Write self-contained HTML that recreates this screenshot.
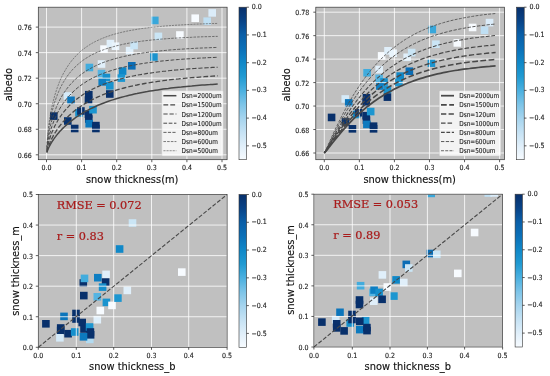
<!DOCTYPE html>
<html><head><meta charset="utf-8"><title>snow albedo figure</title>
<style>
html,body{margin:0;padding:0;background:#fff}
svg{display:block}
.t{font-family:"DejaVu Sans","Liberation Sans",sans-serif;fill:#1a1a1a;stroke:#1a1a1a;stroke-width:0.12px}
.l{font-family:"DejaVu Sans","Liberation Sans",sans-serif;fill:#111;stroke:#111;stroke-width:0.15px}
.s{font-family:"DejaVu Serif","Liberation Serif",serif;fill:#a81c1c;stroke:#a81c1c;stroke-width:0.25px}
</style></head><body>
<svg width="550" height="376" viewBox="0 0 550 376">
<defs><linearGradient id="cbg" x1="0" y1="0" x2="0" y2="1">
<stop offset="0.00%" stop-color="#08306b"/>
<stop offset="9.09%" stop-color="#084387"/>
<stop offset="18.18%" stop-color="#0a5fa8"/>
<stop offset="27.27%" stop-color="#0b70b8"/>
<stop offset="36.36%" stop-color="#1088c8"/>
<stop offset="45.45%" stop-color="#209ad2"/>
<stop offset="54.55%" stop-color="#4ab0e0"/>
<stop offset="63.64%" stop-color="#7cc4e8"/>
<stop offset="72.73%" stop-color="#a5d4ee"/>
<stop offset="81.82%" stop-color="#c5e2f4"/>
<stop offset="90.91%" stop-color="#e0effa"/>
<stop offset="100.00%" stop-color="#f7fbff"/>
</linearGradient></defs>
<rect width="550" height="376" fill="#fff"/>
<rect x="38.3" y="7.2" width="188.8" height="152.5" fill="#c0c0c0"/>
<clipPath id="c45"><rect x="38.3" y="7.2" width="188.8" height="152.5"/></clipPath>
<g clip-path="url(#c45)">
<rect x="50.00" y="112.30" width="7.6" height="7.6" fill="#08306b"/>
<rect x="64.00" y="117.20" width="7.6" height="7.6" fill="#083471"/>
<rect x="70.90" y="124.70" width="7.6" height="7.6" fill="#08306b"/>
<rect x="75.20" y="109.10" width="7.6" height="7.6" fill="#168fcc"/>
<rect x="77.10" y="107.20" width="7.6" height="7.6" fill="#08306b"/>
<rect x="85.00" y="90.90" width="7.6" height="7.6" fill="#08306b"/>
<rect x="84.70" y="96.30" width="7.6" height="7.6" fill="#08306b"/>
<rect x="84.70" y="110.40" width="7.6" height="7.6" fill="#08306b"/>
<rect x="85.00" y="115.20" width="7.6" height="7.6" fill="#08306b"/>
<rect x="89.20" y="105.90" width="7.6" height="7.6" fill="#1d96d0"/>
<rect x="85.40" y="119.90" width="7.6" height="7.6" fill="#0d7abe"/>
<rect x="92.10" y="121.80" width="7.6" height="7.6" fill="#08306b"/>
<rect x="92.10" y="124.70" width="7.6" height="7.6" fill="#08306b"/>
<rect x="63.70" y="92.20" width="7.6" height="7.6" fill="#d5eaf8"/>
<rect x="67.20" y="96.50" width="7.6" height="7.6" fill="#0c75bb"/>
<rect x="85.60" y="63.70" width="7.6" height="7.6" fill="#42acdd"/>
<rect x="97.70" y="60.20" width="7.6" height="7.6" fill="#e0effa"/>
<rect x="97.70" y="69.80" width="7.6" height="7.6" fill="#54b4e2"/>
<rect x="102.60" y="73.70" width="7.6" height="7.6" fill="#168fcc"/>
<rect x="98.40" y="78.10" width="7.6" height="7.6" fill="#0e7ec2"/>
<rect x="106.00" y="82.00" width="7.6" height="7.6" fill="#1a93ce"/>
<rect x="106.00" y="90.20" width="7.6" height="7.6" fill="#08306b"/>
<rect x="118.80" y="67.30" width="7.6" height="7.6" fill="#1088c8"/>
<rect x="117.50" y="74.30" width="7.6" height="7.6" fill="#1d96d0"/>
<rect x="128.00" y="62.00" width="7.6" height="7.6" fill="#0b6db5"/>
<rect x="100.20" y="45.30" width="7.6" height="7.6" fill="#f7fbff"/>
<rect x="106.60" y="39.80" width="7.6" height="7.6" fill="#e0effa"/>
<rect x="111.70" y="42.40" width="7.6" height="7.6" fill="#e9f4fc"/>
<rect x="125.80" y="46.80" width="7.6" height="7.6" fill="#e0effa"/>
<rect x="130.30" y="41.70" width="7.6" height="7.6" fill="#cae5f5"/>
<rect x="150.10" y="53.20" width="7.6" height="7.6" fill="#1a93ce"/>
<rect x="154.60" y="32.60" width="7.6" height="7.6" fill="#cae5f5"/>
<rect x="151.00" y="16.60" width="7.6" height="7.6" fill="#39a7da"/>
<rect x="176.10" y="31.20" width="7.6" height="7.6" fill="#f7fbff"/>
<rect x="191.40" y="14.40" width="7.6" height="7.6" fill="#f7fbff"/>
<rect x="203.40" y="17.40" width="7.6" height="7.6" fill="#bfdff3"/>
<rect x="208.40" y="9.10" width="7.6" height="7.6" fill="#dbecf9"/>
<line x1="46.5" y1="7.2" x2="46.5" y2="159.7" stroke="#fff" stroke-width="0.8"/>
<line x1="81.6" y1="7.2" x2="81.6" y2="159.7" stroke="#fff" stroke-width="0.8"/>
<line x1="116.7" y1="7.2" x2="116.7" y2="159.7" stroke="#fff" stroke-width="0.8"/>
<line x1="151.8" y1="7.2" x2="151.8" y2="159.7" stroke="#fff" stroke-width="0.8"/>
<line x1="186.9" y1="7.2" x2="186.9" y2="159.7" stroke="#fff" stroke-width="0.8"/>
<line x1="222.0" y1="7.2" x2="222.0" y2="159.7" stroke="#fff" stroke-width="0.8"/>
<line x1="38.3" y1="154.8" x2="227.1" y2="154.8" stroke="#fff" stroke-width="0.8"/>
<line x1="38.3" y1="129.26000000000002" x2="227.1" y2="129.26000000000002" stroke="#fff" stroke-width="0.8"/>
<line x1="38.3" y1="103.72000000000001" x2="227.1" y2="103.72000000000001" stroke="#fff" stroke-width="0.8"/>
<line x1="38.3" y1="78.18" x2="227.1" y2="78.18" stroke="#fff" stroke-width="0.8"/>
<line x1="38.3" y1="52.640000000000015" x2="227.1" y2="52.640000000000015" stroke="#fff" stroke-width="0.8"/>
<line x1="38.3" y1="27.100000000000023" x2="227.1" y2="27.100000000000023" stroke="#fff" stroke-width="0.8"/>
<path d="M46.8,152.4 L47.9,149.4 L48.5,148.1 L49.0,147.0 L49.6,145.9 L50.2,144.8 L50.7,143.9 L51.3,142.9 L51.8,142.0 L52.4,141.1 L53.0,140.3 L53.5,139.4 L54.1,138.6 L54.6,137.9 L55.2,137.1 L55.8,136.4 L56.3,135.6 L56.9,134.9 L57.4,134.2 L58.0,133.6 L58.6,132.9 L59.1,132.3 L59.7,131.6 L60.2,131.0 L60.8,130.4 L61.4,129.8 L61.9,129.2 L62.5,128.6 L63.0,128.1 L63.6,127.5 L64.2,127.0 L66.8,124.6 L69.4,122.3 L72.0,120.3 L74.6,118.3 L77.2,116.5 L79.8,114.8 L82.4,113.2 L85.0,111.7 L87.6,110.3 L90.2,108.9 L92.8,107.7 L95.4,106.5 L98.0,105.3 L100.6,104.2 L103.2,103.2 L105.8,102.2 L108.4,101.3 L111.0,100.4 L113.6,99.6 L116.2,98.8 L118.8,98.0 L121.4,97.3 L124.0,96.6 L126.6,95.9 L129.2,95.3 L131.8,94.7 L134.4,94.1 L137.0,93.6 L139.6,93.0 L142.2,92.5 L144.8,92.0 L147.4,91.6 L150.0,91.1 L152.6,90.7 L155.2,90.3 L157.8,89.9 L160.4,89.5 L163.0,89.1 L165.7,88.8 L168.3,88.5 L170.9,88.1 L173.5,87.8 L176.1,87.5 L178.7,87.2 L181.3,87.0 L183.9,86.7 L186.5,86.4 L189.1,86.2 L191.7,86.0 L194.3,85.7 L196.9,85.5 L199.5,85.3 L202.1,85.1 L204.7,84.9 L207.3,84.7 L209.9,84.6 L212.5,84.4 L215.1,84.2 L217.7,84.0" fill="none" stroke="#484848" stroke-width="1.5"/>
<path d="M46.8,152.4 L47.9,148.1 L48.5,146.5 L49.0,145.0 L49.6,143.5 L50.2,142.2 L50.7,140.9 L51.3,139.7 L51.8,138.6 L52.4,137.5 L53.0,136.4 L53.5,135.4 L54.1,134.4 L54.6,133.5 L55.2,132.5 L55.8,131.6 L56.3,130.8 L56.9,129.9 L57.4,129.1 L58.0,128.3 L58.6,127.5 L59.1,126.7 L59.7,126.0 L60.2,125.3 L60.8,124.6 L61.4,123.9 L61.9,123.2 L62.5,122.5 L63.0,121.9 L63.6,121.2 L64.2,120.6 L66.8,117.8 L69.4,115.3 L72.0,113.0 L74.6,110.8 L77.2,108.8 L79.8,107.0 L82.4,105.2 L85.0,103.6 L87.6,102.1 L90.2,100.7 L92.8,99.3 L95.4,98.1 L98.0,96.9 L100.6,95.8 L103.2,94.7 L105.8,93.7 L108.4,92.8 L111.0,91.9 L113.6,91.0 L116.2,90.2 L118.8,89.4 L121.4,88.7 L124.0,88.0 L126.6,87.3 L129.2,86.7 L131.8,86.1 L134.4,85.5 L137.0,85.0 L139.6,84.4 L142.2,84.0 L144.8,83.5 L147.4,83.0 L150.0,82.6 L152.6,82.2 L155.2,81.8 L157.8,81.4 L160.4,81.0 L163.0,80.7 L165.7,80.3 L168.3,80.0 L170.9,79.7 L173.5,79.4 L176.1,79.1 L178.7,78.9 L181.3,78.6 L183.9,78.4 L186.5,78.1 L189.1,77.9 L191.7,77.7 L194.3,77.5 L196.9,77.3 L199.5,77.1 L202.1,76.9 L204.7,76.7 L207.3,76.5 L209.9,76.4 L212.5,76.2 L215.1,76.0 L217.7,75.9" fill="none" stroke="#484848" stroke-width="1.3" stroke-dasharray="4.81 2.08"/>
<path d="M46.8,151.2 L47.9,145.1 L48.5,142.9 L49.0,140.8 L49.6,139.0 L50.2,137.2 L50.7,135.6 L51.3,134.1 L51.8,132.6 L52.4,131.3 L53.0,130.0 L53.5,128.7 L54.1,127.5 L54.6,126.3 L55.2,125.2 L55.8,124.2 L56.3,123.1 L56.9,122.1 L57.4,121.2 L58.0,120.2 L58.6,119.3 L59.1,118.4 L59.7,117.6 L60.2,116.7 L60.8,115.9 L61.4,115.1 L61.9,114.3 L62.5,113.6 L63.0,112.8 L63.6,112.1 L64.2,111.4 L66.8,108.4 L69.4,105.6 L72.0,103.1 L74.6,100.8 L77.2,98.7 L79.8,96.8 L82.4,95.0 L85.0,93.3 L87.6,91.8 L90.2,90.3 L92.8,89.0 L95.4,87.7 L98.0,86.6 L100.6,85.5 L103.2,84.4 L105.8,83.5 L108.4,82.5 L111.0,81.7 L113.6,80.9 L116.2,80.1 L118.8,79.4 L121.4,78.7 L124.0,78.0 L126.6,77.4 L129.2,76.8 L131.8,76.3 L134.4,75.7 L137.0,75.2 L139.6,74.7 L142.2,74.3 L144.8,73.9 L147.4,73.4 L150.0,73.1 L152.6,72.7 L155.2,72.3 L157.8,72.0 L160.4,71.7 L163.0,71.3 L165.7,71.1 L168.3,70.8 L170.9,70.5 L173.5,70.2 L176.1,70.0 L178.7,69.8 L181.3,69.5 L183.9,69.3 L186.5,69.1 L189.1,68.9 L191.7,68.7 L194.3,68.5 L196.9,68.3 L199.5,68.2 L202.1,68.0 L204.7,67.9 L207.3,67.7 L209.9,67.6 L212.5,67.4 L215.1,67.3 L217.7,67.2" fill="none" stroke="#484848" stroke-width="1.15" stroke-dasharray="4.25 1.84"/>
<path d="M46.8,150.0 L47.9,142.1 L48.5,139.2 L49.0,136.7 L49.6,134.4 L50.2,132.2 L50.7,130.2 L51.3,128.4 L51.8,126.6 L52.4,125.0 L53.0,123.4 L53.5,121.9 L54.1,120.5 L54.6,119.1 L55.2,117.8 L55.8,116.6 L56.3,115.4 L56.9,114.2 L57.4,113.1 L58.0,112.0 L58.6,110.9 L59.1,109.9 L59.7,108.9 L60.2,108.0 L60.8,107.0 L61.4,106.1 L61.9,105.3 L62.5,104.4 L63.0,103.6 L63.6,102.8 L64.2,102.0 L66.8,98.6 L69.4,95.6 L72.0,92.9 L74.6,90.4 L77.2,88.1 L79.8,86.1 L82.4,84.2 L85.0,82.5 L87.6,80.8 L90.2,79.4 L92.8,78.0 L95.4,76.7 L98.0,75.5 L100.6,74.4 L103.2,73.4 L105.8,72.4 L108.4,71.5 L111.0,70.7 L113.6,69.9 L116.2,69.1 L118.8,68.4 L121.4,67.8 L124.0,67.1 L126.6,66.5 L129.2,66.0 L131.8,65.5 L134.4,65.0 L137.0,64.5 L139.6,64.0 L142.2,63.6 L144.8,63.2 L147.4,62.8 L150.0,62.5 L152.6,62.1 L155.2,61.8 L157.8,61.5 L160.4,61.2 L163.0,60.9 L165.7,60.7 L168.3,60.4 L170.9,60.2 L173.5,59.9 L176.1,59.7 L178.7,59.5 L181.3,59.3 L183.9,59.1 L186.5,58.9 L189.1,58.8 L191.7,58.6 L194.3,58.4 L196.9,58.3 L199.5,58.1 L202.1,58.0 L204.7,57.9 L207.3,57.7 L209.9,57.6 L212.5,57.5 L215.1,57.4 L217.7,57.3" fill="none" stroke="#484848" stroke-width="1.0" stroke-dasharray="3.70 1.60"/>
<path d="M46.8,148.7 L47.9,138.8 L48.5,135.3 L49.0,132.2 L49.6,129.4 L50.2,126.9 L50.7,124.5 L51.3,122.4 L51.8,120.3 L52.4,118.4 L53.0,116.6 L53.5,114.9 L54.1,113.2 L54.6,111.6 L55.2,110.2 L55.8,108.7 L56.3,107.3 L56.9,106.0 L57.4,104.8 L58.0,103.5 L58.6,102.4 L59.1,101.2 L59.7,100.1 L60.2,99.1 L60.8,98.0 L61.4,97.0 L61.9,96.1 L62.5,95.1 L63.0,94.2 L63.6,93.3 L64.2,92.5 L66.8,88.8 L69.4,85.5 L72.0,82.6 L74.6,80.0 L77.2,77.6 L79.8,75.5 L82.4,73.5 L85.0,71.7 L87.6,70.1 L90.2,68.6 L92.8,67.2 L95.4,65.9 L98.0,64.7 L100.6,63.6 L103.2,62.5 L105.8,61.6 L108.4,60.7 L111.0,59.9 L113.6,59.1 L116.2,58.4 L118.8,57.7 L121.4,57.0 L124.0,56.4 L126.6,55.9 L129.2,55.3 L131.8,54.8 L134.4,54.4 L137.0,53.9 L139.6,53.5 L142.2,53.1 L144.8,52.7 L147.4,52.4 L150.0,52.0 L152.6,51.7 L155.2,51.4 L157.8,51.1 L160.4,50.9 L163.0,50.6 L165.7,50.4 L168.3,50.1 L170.9,49.9 L173.5,49.7 L176.1,49.5 L178.7,49.3 L181.3,49.2 L183.9,49.0 L186.5,48.8 L189.1,48.7 L191.7,48.5 L194.3,48.4 L196.9,48.2 L199.5,48.1 L202.1,48.0 L204.7,47.9 L207.3,47.8 L209.9,47.7 L212.5,47.6 L215.1,47.5 L217.7,47.4" fill="none" stroke="#484848" stroke-width="0.85" stroke-dasharray="3.15 1.36"/>
<path d="M46.8,147.1 L47.9,134.8 L48.5,130.4 L49.0,126.7 L49.6,123.3 L50.2,120.3 L50.7,117.5 L51.3,114.9 L51.8,112.5 L52.4,110.2 L53.0,108.1 L53.5,106.1 L54.1,104.2 L54.6,102.4 L55.2,100.7 L55.8,99.0 L56.3,97.5 L56.9,96.0 L57.4,94.5 L58.0,93.2 L58.6,91.8 L59.1,90.6 L59.7,89.3 L60.2,88.1 L60.8,87.0 L61.4,85.9 L61.9,84.8 L62.5,83.8 L63.0,82.8 L63.6,81.8 L64.2,80.9 L66.8,76.8 L69.4,73.3 L72.0,70.2 L74.6,67.5 L77.2,65.0 L79.8,62.8 L82.4,60.7 L85.0,58.9 L87.6,57.3 L90.2,55.7 L92.8,54.4 L95.4,53.1 L98.0,51.9 L100.6,50.9 L103.2,49.9 L105.8,48.9 L108.4,48.1 L111.0,47.3 L113.6,46.6 L116.2,45.9 L118.8,45.3 L121.4,44.7 L124.0,44.1 L126.6,43.6 L129.2,43.1 L131.8,42.7 L134.4,42.2 L137.0,41.9 L139.6,41.5 L142.2,41.1 L144.8,40.8 L147.4,40.5 L150.0,40.2 L152.6,39.9 L155.2,39.7 L157.8,39.4 L160.4,39.2 L163.0,39.0 L165.7,38.8 L168.3,38.6 L170.9,38.4 L173.5,38.2 L176.1,38.1 L178.7,37.9 L181.3,37.8 L183.9,37.6 L186.5,37.5 L189.1,37.4 L191.7,37.3 L194.3,37.1 L196.9,37.0 L199.5,36.9 L202.1,36.8 L204.7,36.7 L207.3,36.7 L209.9,36.6 L212.5,36.5 L215.1,36.4 L217.7,36.4" fill="none" stroke="#484848" stroke-width="0.7" stroke-dasharray="2.59 1.12"/>
<path d="M46.8,146.6 L47.9,132.4 L48.5,127.5 L49.0,123.3 L49.6,119.5 L50.2,116.1 L50.7,112.9 L51.3,110.0 L51.8,107.3 L52.4,104.8 L53.0,102.4 L53.5,100.1 L54.1,98.0 L54.6,96.0 L55.2,94.1 L55.8,92.2 L56.3,90.5 L56.9,88.8 L57.4,87.2 L58.0,85.7 L58.6,84.2 L59.1,82.8 L59.7,81.4 L60.2,80.1 L60.8,78.8 L61.4,77.6 L61.9,76.4 L62.5,75.3 L63.0,74.2 L63.6,73.1 L64.2,72.1 L66.8,67.6 L69.4,63.7 L72.0,60.3 L74.6,57.3 L77.2,54.5 L79.8,52.1 L82.4,49.9 L85.0,47.9 L87.6,46.1 L90.2,44.4 L92.8,42.9 L95.4,41.5 L98.0,40.3 L100.6,39.1 L103.2,38.0 L105.8,37.0 L108.4,36.1 L111.0,35.2 L113.6,34.4 L116.2,33.7 L118.8,33.0 L121.4,32.4 L124.0,31.8 L126.6,31.2 L129.2,30.7 L131.8,30.2 L134.4,29.8 L137.0,29.3 L139.6,28.9 L142.2,28.5 L144.8,28.2 L147.4,27.9 L150.0,27.5 L152.6,27.2 L155.2,27.0 L157.8,26.7 L160.4,26.5 L163.0,26.2 L165.7,26.0 L168.3,25.8 L170.9,25.6 L173.5,25.4 L176.1,25.2 L178.7,25.1 L181.3,24.9 L183.9,24.8 L186.5,24.6 L189.1,24.5 L191.7,24.4 L194.3,24.2 L196.9,24.1 L199.5,24.0 L202.1,23.9 L204.7,23.8 L207.3,23.7 L209.9,23.6 L212.5,23.5 L215.1,23.5 L217.7,23.4" fill="none" stroke="#484848" stroke-width="0.58" stroke-dasharray="2.15 0.93"/>
</g>
<rect x="161.8" y="90.7" width="61.39999999999998" height="65.2" rx="1" fill="#fff" fill-opacity="0.8" stroke="#ccc" stroke-opacity="0.8" stroke-width="0.5"/>
<line x1="163.4" y1="95.7" x2="176.4" y2="95.7" stroke="#484848" stroke-width="1.5"/>
<text transform="translate(181.60,98.18) scale(0.852,1)" font-size="6.8" class="t">Dsn=2000um</text>
<line x1="163.4" y1="104.87" x2="176.4" y2="104.87" stroke="#484848" stroke-width="1.3" stroke-dasharray="4.81 2.08"/>
<text transform="translate(181.60,107.35) scale(0.852,1)" font-size="6.8" class="t">Dsn=1500um</text>
<line x1="163.4" y1="114.04" x2="176.4" y2="114.04" stroke="#484848" stroke-width="1.15" stroke-dasharray="4.25 1.84"/>
<text transform="translate(181.60,116.52) scale(0.852,1)" font-size="6.8" class="t">Dsn=1200um</text>
<line x1="163.4" y1="123.21000000000001" x2="176.4" y2="123.21000000000001" stroke="#484848" stroke-width="1.0" stroke-dasharray="3.70 1.60"/>
<text transform="translate(181.60,125.69) scale(0.852,1)" font-size="6.8" class="t">Dsn=1000um</text>
<line x1="163.4" y1="132.38" x2="176.4" y2="132.38" stroke="#484848" stroke-width="0.85" stroke-dasharray="3.15 1.36"/>
<text transform="translate(181.60,134.86) scale(0.852,1)" font-size="6.8" class="t">Dsn=800um</text>
<line x1="163.4" y1="141.55" x2="176.4" y2="141.55" stroke="#484848" stroke-width="0.7" stroke-dasharray="2.59 1.12"/>
<text transform="translate(181.60,144.03) scale(0.852,1)" font-size="6.8" class="t">Dsn=600um</text>
<line x1="163.4" y1="150.72" x2="176.4" y2="150.72" stroke="#484848" stroke-width="0.58" stroke-dasharray="2.15 0.93"/>
<text transform="translate(181.60,153.20) scale(0.852,1)" font-size="6.8" class="t">Dsn=500um</text>
<rect x="38.3" y="7.2" width="188.8" height="152.5" fill="none" stroke="#333" stroke-width="0.7"/>
<line x1="46.5" y1="159.7" x2="46.5" y2="162.2" stroke="#333" stroke-width="0.8"/>
<text transform="translate(46.50,170.40) scale(0.89,1)" font-size="7.1" text-anchor="middle" class="t">0.0</text>
<line x1="81.6" y1="159.7" x2="81.6" y2="162.2" stroke="#333" stroke-width="0.8"/>
<text transform="translate(81.60,170.40) scale(0.89,1)" font-size="7.1" text-anchor="middle" class="t">0.1</text>
<line x1="116.7" y1="159.7" x2="116.7" y2="162.2" stroke="#333" stroke-width="0.8"/>
<text transform="translate(116.70,170.40) scale(0.89,1)" font-size="7.1" text-anchor="middle" class="t">0.2</text>
<line x1="151.8" y1="159.7" x2="151.8" y2="162.2" stroke="#333" stroke-width="0.8"/>
<text transform="translate(151.80,170.40) scale(0.89,1)" font-size="7.1" text-anchor="middle" class="t">0.3</text>
<line x1="186.9" y1="159.7" x2="186.9" y2="162.2" stroke="#333" stroke-width="0.8"/>
<text transform="translate(186.90,170.40) scale(0.89,1)" font-size="7.1" text-anchor="middle" class="t">0.4</text>
<line x1="222.0" y1="159.7" x2="222.0" y2="162.2" stroke="#333" stroke-width="0.8"/>
<text transform="translate(222.00,170.40) scale(0.89,1)" font-size="7.1" text-anchor="middle" class="t">0.5</text>
<line x1="35.8" y1="154.8" x2="38.3" y2="154.8" stroke="#333" stroke-width="0.8"/>
<text transform="translate(31.90,157.79) scale(0.89,1)" font-size="7.1" text-anchor="end" class="t">0.66</text>
<line x1="35.8" y1="129.26000000000002" x2="38.3" y2="129.26000000000002" stroke="#333" stroke-width="0.8"/>
<text transform="translate(31.90,132.25) scale(0.89,1)" font-size="7.1" text-anchor="end" class="t">0.68</text>
<line x1="35.8" y1="103.72000000000001" x2="38.3" y2="103.72000000000001" stroke="#333" stroke-width="0.8"/>
<text transform="translate(31.90,106.71) scale(0.89,1)" font-size="7.1" text-anchor="end" class="t">0.70</text>
<line x1="35.8" y1="78.18" x2="38.3" y2="78.18" stroke="#333" stroke-width="0.8"/>
<text transform="translate(31.90,81.17) scale(0.89,1)" font-size="7.1" text-anchor="end" class="t">0.72</text>
<line x1="35.8" y1="52.640000000000015" x2="38.3" y2="52.640000000000015" stroke="#333" stroke-width="0.8"/>
<text transform="translate(31.90,55.63) scale(0.89,1)" font-size="7.1" text-anchor="end" class="t">0.74</text>
<line x1="35.8" y1="27.100000000000023" x2="38.3" y2="27.100000000000023" stroke="#333" stroke-width="0.8"/>
<text transform="translate(31.90,30.09) scale(0.89,1)" font-size="7.1" text-anchor="end" class="t">0.76</text>
<text transform="translate(132.20,182.60) scale(0.958,1)" font-size="10.3" text-anchor="middle" class="l">snow thickness(m)</text>
<text transform="translate(12.00,84.65) rotate(-90) scale(0.958,1)" font-size="10.3" text-anchor="middle" class="l">albedo</text>
<rect x="239.0" y="7.2" width="7.599999999999994" height="152.5" fill="url(#cbg)" stroke="#333" stroke-width="0.6"/>
<line x1="246.6" y1="7.2" x2="248.9" y2="7.2" stroke="#333" stroke-width="0.8"/>
<text transform="translate(251.80,9.29) scale(0.89,1)" font-size="7.1" class="t">0.0</text>
<line x1="246.6" y1="34.92727272727273" x2="248.9" y2="34.92727272727273" stroke="#333" stroke-width="0.8"/>
<text transform="translate(251.50,37.02) scale(0.89,1)" font-size="7.1" class="t">−0.1</text>
<line x1="246.6" y1="62.654545454545456" x2="248.9" y2="62.654545454545456" stroke="#333" stroke-width="0.8"/>
<text transform="translate(251.50,64.75) scale(0.89,1)" font-size="7.1" class="t">−0.2</text>
<line x1="246.6" y1="90.38181818181819" x2="248.9" y2="90.38181818181819" stroke="#333" stroke-width="0.8"/>
<text transform="translate(251.50,92.47) scale(0.89,1)" font-size="7.1" class="t">−0.3</text>
<line x1="246.6" y1="118.10909090909091" x2="248.9" y2="118.10909090909091" stroke="#333" stroke-width="0.8"/>
<text transform="translate(251.50,120.20) scale(0.89,1)" font-size="7.1" class="t">−0.4</text>
<line x1="246.6" y1="145.83636363636361" x2="248.9" y2="145.83636363636361" stroke="#333" stroke-width="0.8"/>
<text transform="translate(251.50,147.93) scale(0.89,1)" font-size="7.1" class="t">−0.5</text>
<rect x="315.8" y="7.2" width="188.7" height="152.5" fill="#c0c0c0"/>
<clipPath id="c323"><rect x="315.8" y="7.2" width="188.7" height="152.5"/></clipPath>
<g clip-path="url(#c323)">
<rect x="327.78" y="113.64" width="7.6" height="7.6" fill="#08306b"/>
<rect x="341.74" y="118.14" width="7.6" height="7.6" fill="#083471"/>
<rect x="348.62" y="125.03" width="7.6" height="7.6" fill="#08306b"/>
<rect x="352.91" y="110.70" width="7.6" height="7.6" fill="#168fcc"/>
<rect x="354.80" y="108.95" width="7.6" height="7.6" fill="#08306b"/>
<rect x="362.68" y="93.97" width="7.6" height="7.6" fill="#08306b"/>
<rect x="362.38" y="98.93" width="7.6" height="7.6" fill="#08306b"/>
<rect x="362.38" y="111.89" width="7.6" height="7.6" fill="#08306b"/>
<rect x="362.68" y="116.30" width="7.6" height="7.6" fill="#08306b"/>
<rect x="366.87" y="107.76" width="7.6" height="7.6" fill="#1d96d0"/>
<rect x="363.08" y="120.62" width="7.6" height="7.6" fill="#0d7abe"/>
<rect x="369.76" y="122.37" width="7.6" height="7.6" fill="#08306b"/>
<rect x="369.76" y="125.03" width="7.6" height="7.6" fill="#08306b"/>
<rect x="341.44" y="95.17" width="7.6" height="7.6" fill="#d5eaf8"/>
<rect x="344.93" y="99.12" width="7.6" height="7.6" fill="#0c75bb"/>
<rect x="363.28" y="68.98" width="7.6" height="7.6" fill="#42acdd"/>
<rect x="375.34" y="65.76" width="7.6" height="7.6" fill="#e0effa"/>
<rect x="375.34" y="74.58" width="7.6" height="7.6" fill="#54b4e2"/>
<rect x="380.23" y="78.17" width="7.6" height="7.6" fill="#168fcc"/>
<rect x="376.04" y="82.21" width="7.6" height="7.6" fill="#0e7ec2"/>
<rect x="383.62" y="85.79" width="7.6" height="7.6" fill="#1a93ce"/>
<rect x="383.62" y="93.33" width="7.6" height="7.6" fill="#08306b"/>
<rect x="396.38" y="72.28" width="7.6" height="7.6" fill="#1088c8"/>
<rect x="395.09" y="78.72" width="7.6" height="7.6" fill="#1d96d0"/>
<rect x="405.56" y="67.41" width="7.6" height="7.6" fill="#0b6db5"/>
<rect x="377.84" y="52.07" width="7.6" height="7.6" fill="#f7fbff"/>
<rect x="384.22" y="47.01" width="7.6" height="7.6" fill="#e0effa"/>
<rect x="389.30" y="49.40" width="7.6" height="7.6" fill="#e9f4fc"/>
<rect x="403.36" y="53.45" width="7.6" height="7.6" fill="#e0effa"/>
<rect x="407.85" y="48.76" width="7.6" height="7.6" fill="#cae5f5"/>
<rect x="427.60" y="59.33" width="7.6" height="7.6" fill="#1a93ce"/>
<rect x="432.08" y="40.40" width="7.6" height="7.6" fill="#cae5f5"/>
<rect x="428.49" y="25.69" width="7.6" height="7.6" fill="#39a7da"/>
<rect x="453.52" y="39.11" width="7.6" height="7.6" fill="#f7fbff"/>
<rect x="468.78" y="23.67" width="7.6" height="7.6" fill="#f7fbff"/>
<rect x="480.74" y="26.43" width="7.6" height="7.6" fill="#bfdff3"/>
<rect x="485.73" y="18.80" width="7.6" height="7.6" fill="#dbecf9"/>
<line x1="324.3" y1="7.2" x2="324.3" y2="159.7" stroke="#fff" stroke-width="0.8"/>
<line x1="359.36" y1="7.2" x2="359.36" y2="159.7" stroke="#fff" stroke-width="0.8"/>
<line x1="394.42" y1="7.2" x2="394.42" y2="159.7" stroke="#fff" stroke-width="0.8"/>
<line x1="429.48" y1="7.2" x2="429.48" y2="159.7" stroke="#fff" stroke-width="0.8"/>
<line x1="464.54" y1="7.2" x2="464.54" y2="159.7" stroke="#fff" stroke-width="0.8"/>
<line x1="499.6" y1="7.2" x2="499.6" y2="159.7" stroke="#fff" stroke-width="0.8"/>
<line x1="315.8" y1="153.0" x2="504.5" y2="153.0" stroke="#fff" stroke-width="0.8"/>
<line x1="315.8" y1="129.53" x2="504.5" y2="129.53" stroke="#fff" stroke-width="0.8"/>
<line x1="315.8" y1="106.06" x2="504.5" y2="106.06" stroke="#fff" stroke-width="0.8"/>
<line x1="315.8" y1="82.59" x2="504.5" y2="82.59" stroke="#fff" stroke-width="0.8"/>
<line x1="315.8" y1="59.120000000000005" x2="504.5" y2="59.120000000000005" stroke="#fff" stroke-width="0.8"/>
<line x1="315.8" y1="35.650000000000006" x2="504.5" y2="35.650000000000006" stroke="#fff" stroke-width="0.8"/>
<line x1="315.8" y1="12.180000000000007" x2="504.5" y2="12.180000000000007" stroke="#fff" stroke-width="0.8"/>
<path d="M324.3,153.0 L327.2,149.6 L330.1,146.0 L333.0,142.3 L335.9,138.7 L338.8,135.2 L341.7,131.7 L344.6,128.4 L347.5,125.2 L350.4,122.2 L353.3,119.2 L356.2,116.4 L359.1,113.7 L362.0,111.1 L364.9,108.6 L367.8,106.2 L370.7,104.0 L373.7,101.8 L376.6,99.7 L379.5,97.8 L382.4,95.9 L385.3,94.1 L388.2,92.5 L391.1,90.9 L394.0,89.3 L396.9,87.9 L399.8,86.5 L402.7,85.2 L405.6,84.0 L408.5,82.8 L411.4,81.7 L414.3,80.6 L417.2,79.6 L420.1,78.7 L423.0,77.8 L425.9,76.9 L428.8,76.1 L431.7,75.3 L434.6,74.6 L437.5,73.9 L440.4,73.3 L443.3,72.7 L446.2,72.1 L449.1,71.5 L452.0,71.0 L454.9,70.5 L457.8,70.1 L460.7,69.6 L463.6,69.2 L466.6,68.8 L469.5,68.5 L472.4,68.1 L475.3,67.8 L478.2,67.5 L481.1,67.2 L484.0,66.9 L486.9,66.6 L489.8,66.4 L492.7,66.1 L495.6,65.9" fill="none" stroke="#484848" stroke-width="1.75"/>
<path d="M324.3,153.0 L327.2,149.3 L330.1,145.2 L333.0,141.2 L335.9,137.3 L338.8,133.4 L341.7,129.7 L344.6,126.1 L347.5,122.6 L350.4,119.3 L353.3,116.1 L356.2,113.0 L359.1,110.1 L362.0,107.3 L364.9,104.7 L367.8,102.1 L370.7,99.7 L373.7,97.4 L376.6,95.2 L379.5,93.1 L382.4,91.1 L385.3,89.2 L388.2,87.4 L391.1,85.7 L394.0,84.1 L396.9,82.5 L399.8,81.1 L402.7,79.7 L405.6,78.4 L408.5,77.1 L411.4,76.0 L414.3,74.9 L417.2,73.8 L420.1,72.8 L423.0,71.8 L425.9,70.9 L428.8,70.1 L431.7,69.3 L434.6,68.5 L437.5,67.8 L440.4,67.1 L443.3,66.5 L446.2,65.9 L449.1,65.3 L452.0,64.8 L454.9,64.3 L457.8,63.8 L460.7,63.3 L463.6,62.9 L466.6,62.5 L469.5,62.1 L472.4,61.7 L475.3,61.4 L478.2,61.1 L481.1,60.8 L484.0,60.5 L486.9,60.2 L489.8,59.9 L492.7,59.7 L495.6,59.5" fill="none" stroke="#484848" stroke-width="1.55" stroke-dasharray="5.74 2.48"/>
<path d="M324.3,153.0 L327.2,148.9 L330.1,144.6 L333.0,140.2 L335.9,135.9 L338.8,131.7 L341.7,127.7 L344.6,123.8 L347.5,120.1 L350.4,116.5 L353.3,113.0 L356.2,109.7 L359.1,106.6 L362.0,103.6 L364.9,100.7 L367.8,97.9 L370.7,95.3 L373.7,92.9 L376.6,90.5 L379.5,88.2 L382.4,86.1 L385.3,84.1 L388.2,82.2 L391.1,80.3 L394.0,78.6 L396.9,77.0 L399.8,75.4 L402.7,73.9 L405.6,72.5 L408.5,71.2 L411.4,70.0 L414.3,68.8 L417.2,67.6 L420.1,66.6 L423.0,65.6 L425.9,64.6 L428.8,63.7 L431.7,62.9 L434.6,62.1 L437.5,61.3 L440.4,60.6 L443.3,59.9 L446.2,59.3 L449.1,58.7 L452.0,58.1 L454.9,57.6 L457.8,57.0 L460.7,56.6 L463.6,56.1 L466.6,55.7 L469.5,55.3 L472.4,54.9 L475.3,54.5 L478.2,54.2 L481.1,53.9 L484.0,53.6 L486.9,53.3 L489.8,53.0 L492.7,52.8 L495.6,52.5" fill="none" stroke="#484848" stroke-width="1.43" stroke-dasharray="5.29 2.29"/>
<path d="M324.3,153.0 L327.2,148.5 L330.1,143.7 L333.0,138.9 L335.9,134.3 L338.8,129.7 L341.7,125.3 L344.6,121.1 L347.5,117.1 L350.4,113.2 L353.3,109.5 L356.2,105.9 L359.1,102.5 L362.0,99.3 L364.9,96.2 L367.8,93.2 L370.7,90.4 L373.7,87.8 L376.6,85.2 L379.5,82.8 L382.4,80.6 L385.3,78.4 L388.2,76.3 L391.1,74.4 L394.0,72.5 L396.9,70.8 L399.8,69.1 L402.7,67.6 L405.6,66.1 L408.5,64.7 L411.4,63.3 L414.3,62.1 L417.2,60.9 L420.1,59.7 L423.0,58.7 L425.9,57.7 L428.8,56.7 L431.7,55.8 L434.6,55.0 L437.5,54.2 L440.4,53.4 L443.3,52.7 L446.2,52.0 L449.1,51.4 L452.0,50.8 L454.9,50.2 L457.8,49.7 L460.7,49.1 L463.6,48.7 L466.6,48.2 L469.5,47.8 L472.4,47.4 L475.3,47.0 L478.2,46.7 L481.1,46.3 L484.0,46.0 L486.9,45.7 L489.8,45.4 L492.7,45.2 L495.6,44.9" fill="none" stroke="#484848" stroke-width="1.23" stroke-dasharray="4.55 1.97"/>
<path d="M324.3,153.0 L327.2,148.1 L330.1,142.8 L333.0,137.6 L335.9,132.4 L338.8,127.4 L341.7,122.6 L344.6,118.0 L347.5,113.6 L350.4,109.3 L353.3,105.3 L356.2,101.4 L359.1,97.7 L362.0,94.1 L364.9,90.8 L367.8,87.6 L370.7,84.5 L373.7,81.6 L376.6,78.9 L379.5,76.3 L382.4,73.8 L385.3,71.4 L388.2,69.2 L391.1,67.1 L394.0,65.1 L396.9,63.2 L399.8,61.4 L402.7,59.7 L405.6,58.1 L408.5,56.6 L411.4,55.2 L414.3,53.8 L417.2,52.5 L420.1,51.3 L423.0,50.2 L425.9,49.1 L428.8,48.1 L431.7,47.1 L434.6,46.2 L437.5,45.3 L440.4,44.5 L443.3,43.8 L446.2,43.0 L449.1,42.4 L452.0,41.7 L454.9,41.1 L457.8,40.5 L460.7,40.0 L463.6,39.5 L466.6,39.0 L469.5,38.6 L472.4,38.1 L475.3,37.7 L478.2,37.4 L481.1,37.0 L484.0,36.7 L486.9,36.4 L489.8,36.1 L492.7,35.8 L495.6,35.5" fill="none" stroke="#484848" stroke-width="1.02" stroke-dasharray="3.77 1.63"/>
<path d="M324.3,153.0 L327.2,147.5 L330.1,141.7 L333.0,135.8 L335.9,130.2 L338.8,124.6 L341.7,119.3 L344.6,114.2 L347.5,109.3 L350.4,104.6 L353.3,100.1 L356.2,95.8 L359.1,91.7 L362.0,87.8 L364.9,84.1 L367.8,80.6 L370.7,77.3 L373.7,74.1 L376.6,71.1 L379.5,68.2 L382.4,65.5 L385.3,62.9 L388.2,60.5 L391.1,58.2 L394.0,56.0 L396.9,53.9 L399.8,52.0 L402.7,50.1 L405.6,48.4 L408.5,46.7 L411.4,45.2 L414.3,43.7 L417.2,42.3 L420.1,41.0 L423.0,39.7 L425.9,38.6 L428.8,37.5 L431.7,36.4 L434.6,35.5 L437.5,34.5 L440.4,33.7 L443.3,32.8 L446.2,32.1 L449.1,31.3 L452.0,30.6 L454.9,30.0 L457.8,29.4 L460.7,28.8 L463.6,28.3 L466.6,27.7 L469.5,27.3 L472.4,26.8 L475.3,26.4 L478.2,26.0 L481.1,25.6 L484.0,25.3 L486.9,24.9 L489.8,24.6 L492.7,24.3 L495.6,24.0" fill="none" stroke="#484848" stroke-width="0.9" stroke-dasharray="3.33 1.44"/>
<path d="M324.3,153.0 L327.2,147.0 L330.1,140.6 L333.0,134.2 L335.9,128.0 L338.8,122.0 L341.7,116.2 L344.6,110.6 L347.5,105.2 L350.4,100.1 L353.3,95.2 L356.2,90.6 L359.1,86.1 L362.0,81.9 L364.9,77.9 L367.8,74.1 L370.7,70.4 L373.7,67.0 L376.6,63.7 L379.5,60.7 L382.4,57.7 L385.3,55.0 L388.2,52.3 L391.1,49.8 L394.0,47.5 L396.9,45.3 L399.8,43.2 L402.7,41.2 L405.6,39.3 L408.5,37.6 L411.4,35.9 L414.3,34.3 L417.2,32.8 L420.1,31.4 L423.0,30.1 L425.9,28.8 L428.8,27.7 L431.7,26.6 L434.6,25.5 L437.5,24.5 L440.4,23.6 L443.3,22.7 L446.2,21.9 L449.1,21.1 L452.0,20.4 L454.9,19.7 L457.8,19.1 L460.7,18.5 L463.6,17.9 L466.6,17.4 L469.5,16.9 L472.4,16.4 L475.3,15.9 L478.2,15.5 L481.1,15.1 L484.0,14.7 L486.9,14.4 L489.8,14.1 L492.7,13.8 L495.6,13.5" fill="none" stroke="#484848" stroke-width="0.8" stroke-dasharray="2.96 1.28"/>
</g>
<rect x="439.4" y="90.7" width="61.400000000000034" height="65.2" rx="1" fill="#fff" fill-opacity="0.8" stroke="#ccc" stroke-opacity="0.8" stroke-width="0.5"/>
<line x1="441.0" y1="95.7" x2="454.0" y2="95.7" stroke="#484848" stroke-width="1.75"/>
<text transform="translate(459.20,98.18) scale(0.852,1)" font-size="6.8" class="t">Dsn=2000um</text>
<line x1="441.0" y1="104.87" x2="454.0" y2="104.87" stroke="#484848" stroke-width="1.55" stroke-dasharray="5.74 2.48"/>
<text transform="translate(459.20,107.35) scale(0.852,1)" font-size="6.8" class="t">Dsn=1500um</text>
<line x1="441.0" y1="114.04" x2="454.0" y2="114.04" stroke="#484848" stroke-width="1.43" stroke-dasharray="5.29 2.29"/>
<text transform="translate(459.20,116.52) scale(0.852,1)" font-size="6.8" class="t">Dsn=120um</text>
<line x1="441.0" y1="123.21000000000001" x2="454.0" y2="123.21000000000001" stroke="#484848" stroke-width="1.23" stroke-dasharray="4.55 1.97"/>
<text transform="translate(459.20,125.69) scale(0.852,1)" font-size="6.8" class="t">Dsn=1000um</text>
<line x1="441.0" y1="132.38" x2="454.0" y2="132.38" stroke="#484848" stroke-width="1.02" stroke-dasharray="3.77 1.63"/>
<text transform="translate(459.20,134.86) scale(0.852,1)" font-size="6.8" class="t">Dsn=800um</text>
<line x1="441.0" y1="141.55" x2="454.0" y2="141.55" stroke="#484848" stroke-width="0.9" stroke-dasharray="3.33 1.44"/>
<text transform="translate(459.20,144.03) scale(0.852,1)" font-size="6.8" class="t">Dsn=600um</text>
<line x1="441.0" y1="150.72" x2="454.0" y2="150.72" stroke="#484848" stroke-width="0.8" stroke-dasharray="2.96 1.28"/>
<text transform="translate(459.20,153.20) scale(0.852,1)" font-size="6.8" class="t">Dsn=500um</text>
<rect x="315.8" y="7.2" width="188.7" height="152.5" fill="none" stroke="#333" stroke-width="0.7"/>
<line x1="324.3" y1="159.7" x2="324.3" y2="162.2" stroke="#333" stroke-width="0.8"/>
<text transform="translate(324.30,170.40) scale(0.89,1)" font-size="7.1" text-anchor="middle" class="t">0.0</text>
<line x1="359.36" y1="159.7" x2="359.36" y2="162.2" stroke="#333" stroke-width="0.8"/>
<text transform="translate(359.36,170.40) scale(0.89,1)" font-size="7.1" text-anchor="middle" class="t">0.1</text>
<line x1="394.42" y1="159.7" x2="394.42" y2="162.2" stroke="#333" stroke-width="0.8"/>
<text transform="translate(394.42,170.40) scale(0.89,1)" font-size="7.1" text-anchor="middle" class="t">0.2</text>
<line x1="429.48" y1="159.7" x2="429.48" y2="162.2" stroke="#333" stroke-width="0.8"/>
<text transform="translate(429.48,170.40) scale(0.89,1)" font-size="7.1" text-anchor="middle" class="t">0.3</text>
<line x1="464.54" y1="159.7" x2="464.54" y2="162.2" stroke="#333" stroke-width="0.8"/>
<text transform="translate(464.54,170.40) scale(0.89,1)" font-size="7.1" text-anchor="middle" class="t">0.4</text>
<line x1="499.6" y1="159.7" x2="499.6" y2="162.2" stroke="#333" stroke-width="0.8"/>
<text transform="translate(499.60,170.40) scale(0.89,1)" font-size="7.1" text-anchor="middle" class="t">0.5</text>
<line x1="313.3" y1="153.0" x2="315.8" y2="153.0" stroke="#333" stroke-width="0.8"/>
<text transform="translate(309.40,155.99) scale(0.89,1)" font-size="7.1" text-anchor="end" class="t">0.66</text>
<line x1="313.3" y1="129.53" x2="315.8" y2="129.53" stroke="#333" stroke-width="0.8"/>
<text transform="translate(309.40,132.52) scale(0.89,1)" font-size="7.1" text-anchor="end" class="t">0.68</text>
<line x1="313.3" y1="106.06" x2="315.8" y2="106.06" stroke="#333" stroke-width="0.8"/>
<text transform="translate(309.40,109.05) scale(0.89,1)" font-size="7.1" text-anchor="end" class="t">0.70</text>
<line x1="313.3" y1="82.59" x2="315.8" y2="82.59" stroke="#333" stroke-width="0.8"/>
<text transform="translate(309.40,85.58) scale(0.89,1)" font-size="7.1" text-anchor="end" class="t">0.72</text>
<line x1="313.3" y1="59.120000000000005" x2="315.8" y2="59.120000000000005" stroke="#333" stroke-width="0.8"/>
<text transform="translate(309.40,62.11) scale(0.89,1)" font-size="7.1" text-anchor="end" class="t">0.74</text>
<line x1="313.3" y1="35.650000000000006" x2="315.8" y2="35.650000000000006" stroke="#333" stroke-width="0.8"/>
<text transform="translate(309.40,38.64) scale(0.89,1)" font-size="7.1" text-anchor="end" class="t">0.76</text>
<line x1="313.3" y1="12.180000000000007" x2="315.8" y2="12.180000000000007" stroke="#333" stroke-width="0.8"/>
<text transform="translate(309.40,15.17) scale(0.89,1)" font-size="7.1" text-anchor="end" class="t">0.78</text>
<text transform="translate(409.65,182.60) scale(0.958,1)" font-size="10.3" text-anchor="middle" class="l">snow thickness(m)</text>
<text transform="translate(289.80,84.85) rotate(-90) scale(0.958,1)" font-size="10.3" text-anchor="middle" class="l">albedo</text>
<rect x="516.6" y="7.2" width="7.600000000000023" height="152.5" fill="url(#cbg)" stroke="#333" stroke-width="0.6"/>
<line x1="524.2" y1="7.2" x2="526.5" y2="7.2" stroke="#333" stroke-width="0.8"/>
<text transform="translate(529.40,9.29) scale(0.89,1)" font-size="7.1" class="t">0.0</text>
<line x1="524.2" y1="34.92727272727273" x2="526.5" y2="34.92727272727273" stroke="#333" stroke-width="0.8"/>
<text transform="translate(529.10,37.02) scale(0.89,1)" font-size="7.1" class="t">−0.1</text>
<line x1="524.2" y1="62.654545454545456" x2="526.5" y2="62.654545454545456" stroke="#333" stroke-width="0.8"/>
<text transform="translate(529.10,64.75) scale(0.89,1)" font-size="7.1" class="t">−0.2</text>
<line x1="524.2" y1="90.38181818181819" x2="526.5" y2="90.38181818181819" stroke="#333" stroke-width="0.8"/>
<text transform="translate(529.10,92.47) scale(0.89,1)" font-size="7.1" class="t">−0.3</text>
<line x1="524.2" y1="118.10909090909091" x2="526.5" y2="118.10909090909091" stroke="#333" stroke-width="0.8"/>
<text transform="translate(529.10,120.20) scale(0.89,1)" font-size="7.1" class="t">−0.4</text>
<line x1="524.2" y1="145.83636363636361" x2="526.5" y2="145.83636363636361" stroke="#333" stroke-width="0.8"/>
<text transform="translate(529.10,147.93) scale(0.89,1)" font-size="7.1" class="t">−0.5</text>
<rect x="38.3" y="194.5" width="188.8" height="152.8" fill="#c0c0c0"/>
<clipPath id="c232"><rect x="38.3" y="194.5" width="188.8" height="152.8"/></clipPath>
<g clip-path="url(#c232)">
<rect x="42.10" y="320.00" width="7.6" height="7.6" fill="#08306b"/>
<rect x="56.90" y="324.20" width="7.6" height="7.6" fill="#08306b"/>
<rect x="56.90" y="326.80" width="7.6" height="7.6" fill="#08306b"/>
<rect x="56.10" y="334.00" width="7.6" height="7.6" fill="#d5eaf8"/>
<rect x="64.30" y="329.90" width="7.6" height="7.6" fill="#08306b"/>
<rect x="60.20" y="312.60" width="7.6" height="7.6" fill="#0c75bb"/>
<rect x="72.20" y="309.70" width="7.6" height="7.6" fill="#08306b"/>
<rect x="72.20" y="315.20" width="7.6" height="7.6" fill="#08306b"/>
<rect x="70.90" y="328.20" width="7.6" height="7.6" fill="#168fcc"/>
<rect x="80.00" y="291.80" width="7.6" height="7.6" fill="#08306b"/>
<rect x="79.50" y="279.20" width="7.6" height="7.6" fill="#08306b"/>
<rect x="78.40" y="318.70" width="7.6" height="7.6" fill="#08306b"/>
<rect x="80.20" y="325.20" width="7.6" height="7.6" fill="#08306b"/>
<rect x="85.80" y="323.20" width="7.6" height="7.6" fill="#1d96d0"/>
<rect x="86.00" y="335.60" width="7.6" height="7.6" fill="#b2daf0"/>
<rect x="86.60" y="328.20" width="7.6" height="7.6" fill="#08306b"/>
<rect x="86.80" y="331.00" width="7.6" height="7.6" fill="#08306b"/>
<rect x="79.70" y="333.00" width="7.6" height="7.6" fill="#0d7abe"/>
<rect x="93.50" y="315.90" width="7.6" height="7.6" fill="#e0effa"/>
<rect x="96.50" y="306.70" width="7.6" height="7.6" fill="#f7fbff"/>
<rect x="93.50" y="293.00" width="7.6" height="7.6" fill="#54b4e2"/>
<rect x="102.60" y="298.60" width="7.6" height="7.6" fill="#1a93ce"/>
<rect x="108.20" y="301.60" width="7.6" height="7.6" fill="#f7fbff"/>
<rect x="114.10" y="294.30" width="7.6" height="7.6" fill="#1d96d0"/>
<rect x="80.70" y="274.60" width="7.6" height="7.6" fill="#42acdd"/>
<rect x="94.00" y="273.90" width="7.6" height="7.6" fill="#0e7ec2"/>
<rect x="102.30" y="270.60" width="7.6" height="7.6" fill="#e0effa"/>
<rect x="101.80" y="278.30" width="7.6" height="7.6" fill="#08306b"/>
<rect x="98.80" y="283.30" width="7.6" height="7.6" fill="#168fcc"/>
<rect x="123.50" y="286.60" width="7.6" height="7.6" fill="#e0effa"/>
<rect x="115.80" y="245.20" width="7.6" height="7.6" fill="#1088c8"/>
<rect x="128.70" y="219.20" width="7.6" height="7.6" fill="#cae5f5"/>
<rect x="178.00" y="268.30" width="7.6" height="7.6" fill="#f7fbff"/>
<line x1="38.3" y1="194.5" x2="38.3" y2="347.3" stroke="#fff" stroke-width="0.8"/>
<line x1="76.3" y1="194.5" x2="76.3" y2="347.3" stroke="#fff" stroke-width="0.8"/>
<line x1="113.7" y1="194.5" x2="113.7" y2="347.3" stroke="#fff" stroke-width="0.8"/>
<line x1="151.5" y1="194.5" x2="151.5" y2="347.3" stroke="#fff" stroke-width="0.8"/>
<line x1="188.7" y1="194.5" x2="188.7" y2="347.3" stroke="#fff" stroke-width="0.8"/>
<line x1="227.1" y1="194.5" x2="227.1" y2="347.3" stroke="#fff" stroke-width="0.8"/>
<line x1="38.3" y1="347.3" x2="227.1" y2="347.3" stroke="#fff" stroke-width="0.8"/>
<line x1="38.3" y1="316.74" x2="227.1" y2="316.74" stroke="#fff" stroke-width="0.8"/>
<line x1="38.3" y1="286.18" x2="227.1" y2="286.18" stroke="#fff" stroke-width="0.8"/>
<line x1="38.3" y1="255.62" x2="227.1" y2="255.62" stroke="#fff" stroke-width="0.8"/>
<line x1="38.3" y1="225.06" x2="227.1" y2="225.06" stroke="#fff" stroke-width="0.8"/>
<line x1="38.3" y1="194.50000000000003" x2="227.1" y2="194.50000000000003" stroke="#fff" stroke-width="0.8"/>
<line x1="38.3" y1="347.3" x2="227.1" y2="194.5" stroke="#484848" stroke-width="1.1" stroke-dasharray="4.1 1.8"/>
<text transform="translate(56.70,209.10) scale(0.965,1)" font-size="11.7" class="s">RMSE = 0.072</text>
<text transform="translate(56.70,239.70) scale(0.965,1)" font-size="11.7" class="s">r = 0.83</text>
</g>
<rect x="38.3" y="194.5" width="188.8" height="152.8" fill="none" stroke="#333" stroke-width="0.7"/>
<line x1="38.3" y1="347.3" x2="38.3" y2="349.8" stroke="#333" stroke-width="0.8"/>
<text transform="translate(38.30,358.30) scale(0.89,1)" font-size="7.1" text-anchor="middle" class="t">0.0</text>
<line x1="76.3" y1="347.3" x2="76.3" y2="349.8" stroke="#333" stroke-width="0.8"/>
<text transform="translate(76.30,358.30) scale(0.89,1)" font-size="7.1" text-anchor="middle" class="t">0.1</text>
<line x1="113.7" y1="347.3" x2="113.7" y2="349.8" stroke="#333" stroke-width="0.8"/>
<text transform="translate(113.70,358.30) scale(0.89,1)" font-size="7.1" text-anchor="middle" class="t">0.2</text>
<line x1="151.5" y1="347.3" x2="151.5" y2="349.8" stroke="#333" stroke-width="0.8"/>
<text transform="translate(151.50,358.30) scale(0.89,1)" font-size="7.1" text-anchor="middle" class="t">0.3</text>
<line x1="188.7" y1="347.3" x2="188.7" y2="349.8" stroke="#333" stroke-width="0.8"/>
<text transform="translate(188.70,358.30) scale(0.89,1)" font-size="7.1" text-anchor="middle" class="t">0.4</text>
<line x1="227.1" y1="347.3" x2="227.1" y2="349.8" stroke="#333" stroke-width="0.8"/>
<text transform="translate(227.10,358.30) scale(0.89,1)" font-size="7.1" text-anchor="middle" class="t">0.5</text>
<line x1="35.8" y1="347.3" x2="38.3" y2="347.3" stroke="#333" stroke-width="0.8"/>
<text transform="translate(32.90,350.29) scale(0.89,1)" font-size="7.1" text-anchor="end" class="t">0.0</text>
<line x1="35.8" y1="316.74" x2="38.3" y2="316.74" stroke="#333" stroke-width="0.8"/>
<text transform="translate(32.90,319.73) scale(0.89,1)" font-size="7.1" text-anchor="end" class="t">0.1</text>
<line x1="35.8" y1="286.18" x2="38.3" y2="286.18" stroke="#333" stroke-width="0.8"/>
<text transform="translate(32.90,289.17) scale(0.89,1)" font-size="7.1" text-anchor="end" class="t">0.2</text>
<line x1="35.8" y1="255.62" x2="38.3" y2="255.62" stroke="#333" stroke-width="0.8"/>
<text transform="translate(32.90,258.61) scale(0.89,1)" font-size="7.1" text-anchor="end" class="t">0.3</text>
<line x1="35.8" y1="225.06" x2="38.3" y2="225.06" stroke="#333" stroke-width="0.8"/>
<text transform="translate(32.90,228.05) scale(0.89,1)" font-size="7.1" text-anchor="end" class="t">0.4</text>
<line x1="35.8" y1="194.50000000000003" x2="38.3" y2="194.50000000000003" stroke="#333" stroke-width="0.8"/>
<text transform="translate(32.90,197.49) scale(0.89,1)" font-size="7.1" text-anchor="end" class="t">0.5</text>
<text transform="translate(132.20,369.60) scale(0.958,1)" font-size="10.3" text-anchor="middle" class="l">snow thickness_b</text>
<text transform="translate(18.50,270.90) rotate(-90) scale(0.958,1)" font-size="10.3" text-anchor="middle" class="l">snow thickness_m</text>
<rect x="239.0" y="194.5" width="7.599999999999994" height="152.8" fill="url(#cbg)" stroke="#333" stroke-width="0.6"/>
<line x1="246.6" y1="194.5" x2="248.9" y2="194.5" stroke="#333" stroke-width="0.8"/>
<text transform="translate(251.80,196.59) scale(0.89,1)" font-size="7.1" class="t">0.0</text>
<line x1="246.6" y1="222.28181818181818" x2="248.9" y2="222.28181818181818" stroke="#333" stroke-width="0.8"/>
<text transform="translate(251.50,224.37) scale(0.89,1)" font-size="7.1" class="t">−0.1</text>
<line x1="246.6" y1="250.06363636363636" x2="248.9" y2="250.06363636363636" stroke="#333" stroke-width="0.8"/>
<text transform="translate(251.50,252.16) scale(0.89,1)" font-size="7.1" class="t">−0.2</text>
<line x1="246.6" y1="277.8454545454546" x2="248.9" y2="277.8454545454546" stroke="#333" stroke-width="0.8"/>
<text transform="translate(251.50,279.94) scale(0.89,1)" font-size="7.1" class="t">−0.3</text>
<line x1="246.6" y1="305.6272727272727" x2="248.9" y2="305.6272727272727" stroke="#333" stroke-width="0.8"/>
<text transform="translate(251.50,307.72) scale(0.89,1)" font-size="7.1" class="t">−0.4</text>
<line x1="246.6" y1="333.4090909090909" x2="248.9" y2="333.4090909090909" stroke="#333" stroke-width="0.8"/>
<text transform="translate(251.50,335.50) scale(0.89,1)" font-size="7.1" class="t">−0.5</text>
<rect x="313.9" y="194.2" width="188.70000000000005" height="152.8" fill="#c0c0c0"/>
<clipPath id="c508"><rect x="313.9" y="194.2" width="188.70000000000005" height="152.8"/></clipPath>
<g clip-path="url(#c508)">
<rect x="318.10" y="318.30" width="7.6" height="7.6" fill="#08306b"/>
<rect x="331.90" y="315.80" width="7.6" height="7.6" fill="#d5eaf8"/>
<rect x="332.90" y="320.00" width="7.6" height="7.6" fill="#08306b"/>
<rect x="332.90" y="324.10" width="7.6" height="7.6" fill="#08306b"/>
<rect x="340.30" y="327.10" width="7.6" height="7.6" fill="#08306b"/>
<rect x="336.20" y="308.50" width="7.6" height="7.6" fill="#0c75bb"/>
<rect x="346.40" y="319.20" width="7.6" height="7.6" fill="#168fcc"/>
<rect x="348.20" y="310.70" width="7.6" height="7.6" fill="#08306b"/>
<rect x="348.20" y="315.70" width="7.6" height="7.6" fill="#08306b"/>
<rect x="355.70" y="296.20" width="7.6" height="7.6" fill="#08306b"/>
<rect x="355.70" y="300.70" width="7.6" height="7.6" fill="#08306b"/>
<rect x="361.80" y="316.70" width="7.6" height="7.6" fill="#1d96d0"/>
<rect x="356.00" y="317.50" width="7.6" height="7.6" fill="#08306b"/>
<rect x="356.00" y="325.80" width="7.6" height="7.6" fill="#0d7abe"/>
<rect x="363.10" y="323.80" width="7.6" height="7.6" fill="#08306b"/>
<rect x="363.20" y="326.80" width="7.6" height="7.6" fill="#08306b"/>
<rect x="356.80" y="281.90" width="7.6" height="7.6" fill="#42acdd"/>
<rect x="370.00" y="297.40" width="7.6" height="7.6" fill="#e0effa"/>
<rect x="369.20" y="288.60" width="7.6" height="7.6" fill="#54b4e2"/>
<rect x="370.30" y="286.20" width="7.6" height="7.6" fill="#0e7ec2"/>
<rect x="375.30" y="288.60" width="7.6" height="7.6" fill="#168fcc"/>
<rect x="383.50" y="283.20" width="7.6" height="7.6" fill="#f7fbff"/>
<rect x="378.30" y="295.50" width="7.6" height="7.6" fill="#08306b"/>
<rect x="390.10" y="292.30" width="7.6" height="7.6" fill="#1d96d0"/>
<rect x="378.60" y="271.10" width="7.6" height="7.6" fill="#e0effa"/>
<rect x="392.30" y="276.10" width="7.6" height="7.6" fill="#1088c8"/>
<rect x="400.00" y="278.70" width="7.6" height="7.6" fill="#e0effa"/>
<rect x="402.50" y="260.60" width="7.6" height="7.6" fill="#0b6db5"/>
<rect x="405.00" y="264.20" width="7.6" height="7.6" fill="#cae5f5"/>
<rect x="426.60" y="249.70" width="7.6" height="7.6" fill="#0b6db5"/>
<rect x="433.00" y="250.50" width="7.6" height="7.6" fill="#cae5f5"/>
<rect x="427.40" y="189.60" width="7.6" height="7.6" fill="#39a7da"/>
<rect x="470.80" y="228.70" width="7.6" height="7.6" fill="#f7fbff"/>
<rect x="454.00" y="269.60" width="7.6" height="7.6" fill="#f7fbff"/>
<rect x="484.50" y="189.20" width="7.6" height="7.6" fill="#bfdff3"/>
<rect x="490.40" y="189.10" width="7.6" height="7.6" fill="#dbecf9"/>
<line x1="313.9" y1="194.2" x2="313.9" y2="347.0" stroke="#fff" stroke-width="0.8"/>
<line x1="352.3" y1="194.2" x2="352.3" y2="347.0" stroke="#fff" stroke-width="0.8"/>
<line x1="390.0" y1="194.2" x2="390.0" y2="347.0" stroke="#fff" stroke-width="0.8"/>
<line x1="427.4" y1="194.2" x2="427.4" y2="347.0" stroke="#fff" stroke-width="0.8"/>
<line x1="464.6" y1="194.2" x2="464.6" y2="347.0" stroke="#fff" stroke-width="0.8"/>
<line x1="502.6" y1="194.2" x2="502.6" y2="347.0" stroke="#fff" stroke-width="0.8"/>
<line x1="313.9" y1="347.0" x2="502.6" y2="347.0" stroke="#fff" stroke-width="0.8"/>
<line x1="313.9" y1="316.44" x2="502.6" y2="316.44" stroke="#fff" stroke-width="0.8"/>
<line x1="313.9" y1="285.88" x2="502.6" y2="285.88" stroke="#fff" stroke-width="0.8"/>
<line x1="313.9" y1="255.32" x2="502.6" y2="255.32" stroke="#fff" stroke-width="0.8"/>
<line x1="313.9" y1="224.76" x2="502.6" y2="224.76" stroke="#fff" stroke-width="0.8"/>
<line x1="313.9" y1="194.20000000000002" x2="502.6" y2="194.20000000000002" stroke="#fff" stroke-width="0.8"/>
<line x1="313.9" y1="347.0" x2="502.6" y2="194.2" stroke="#484848" stroke-width="1.1" stroke-dasharray="4.1 1.8"/>
<text transform="translate(333.20,208.10) scale(0.965,1)" font-size="11.7" class="s">RMSE = 0.053</text>
<text transform="translate(333.20,238.70) scale(0.965,1)" font-size="11.7" class="s">r = 0.89</text>
</g>
<rect x="313.9" y="194.2" width="188.70000000000005" height="152.8" fill="none" stroke="#333" stroke-width="0.7"/>
<line x1="313.9" y1="347.0" x2="313.9" y2="349.5" stroke="#333" stroke-width="0.8"/>
<text transform="translate(313.90,357.90) scale(0.89,1)" font-size="7.1" text-anchor="middle" class="t">0.0</text>
<line x1="352.3" y1="347.0" x2="352.3" y2="349.5" stroke="#333" stroke-width="0.8"/>
<text transform="translate(352.30,357.90) scale(0.89,1)" font-size="7.1" text-anchor="middle" class="t">0.1</text>
<line x1="390.0" y1="347.0" x2="390.0" y2="349.5" stroke="#333" stroke-width="0.8"/>
<text transform="translate(390.00,357.90) scale(0.89,1)" font-size="7.1" text-anchor="middle" class="t">0.2</text>
<line x1="427.4" y1="347.0" x2="427.4" y2="349.5" stroke="#333" stroke-width="0.8"/>
<text transform="translate(427.40,357.90) scale(0.89,1)" font-size="7.1" text-anchor="middle" class="t">0.3</text>
<line x1="464.6" y1="347.0" x2="464.6" y2="349.5" stroke="#333" stroke-width="0.8"/>
<text transform="translate(464.60,357.90) scale(0.89,1)" font-size="7.1" text-anchor="middle" class="t">0.4</text>
<line x1="502.6" y1="347.0" x2="502.6" y2="349.5" stroke="#333" stroke-width="0.8"/>
<text transform="translate(502.60,357.90) scale(0.89,1)" font-size="7.1" text-anchor="middle" class="t">0.5</text>
<line x1="311.4" y1="347.0" x2="313.9" y2="347.0" stroke="#333" stroke-width="0.8"/>
<text transform="translate(308.50,349.99) scale(0.89,1)" font-size="7.1" text-anchor="end" class="t">0.0</text>
<line x1="311.4" y1="316.44" x2="313.9" y2="316.44" stroke="#333" stroke-width="0.8"/>
<text transform="translate(308.50,319.43) scale(0.89,1)" font-size="7.1" text-anchor="end" class="t">0.1</text>
<line x1="311.4" y1="285.88" x2="313.9" y2="285.88" stroke="#333" stroke-width="0.8"/>
<text transform="translate(308.50,288.87) scale(0.89,1)" font-size="7.1" text-anchor="end" class="t">0.2</text>
<line x1="311.4" y1="255.32" x2="313.9" y2="255.32" stroke="#333" stroke-width="0.8"/>
<text transform="translate(308.50,258.31) scale(0.89,1)" font-size="7.1" text-anchor="end" class="t">0.3</text>
<line x1="311.4" y1="224.76" x2="313.9" y2="224.76" stroke="#333" stroke-width="0.8"/>
<text transform="translate(308.50,227.75) scale(0.89,1)" font-size="7.1" text-anchor="end" class="t">0.4</text>
<line x1="311.4" y1="194.20000000000002" x2="313.9" y2="194.20000000000002" stroke="#333" stroke-width="0.8"/>
<text transform="translate(308.50,197.19) scale(0.89,1)" font-size="7.1" text-anchor="end" class="t">0.5</text>
<text transform="translate(407.75,369.80) scale(0.958,1)" font-size="10.3" text-anchor="middle" class="l">snow thickness_b</text>
<text transform="translate(293.70,269.90) rotate(-90) scale(0.958,1)" font-size="10.3" text-anchor="middle" class="l">snow thickness_m</text>
<rect x="515.1" y="194.2" width="7.2999999999999545" height="152.8" fill="url(#cbg)" stroke="#333" stroke-width="0.6"/>
<line x1="522.4" y1="194.2" x2="524.6999999999999" y2="194.2" stroke="#333" stroke-width="0.8"/>
<text transform="translate(527.60,196.29) scale(0.89,1)" font-size="7.1" class="t">0.0</text>
<line x1="522.4" y1="221.98181818181817" x2="524.6999999999999" y2="221.98181818181817" stroke="#333" stroke-width="0.8"/>
<text transform="translate(527.30,224.07) scale(0.89,1)" font-size="7.1" class="t">−0.1</text>
<line x1="522.4" y1="249.76363636363635" x2="524.6999999999999" y2="249.76363636363635" stroke="#333" stroke-width="0.8"/>
<text transform="translate(527.30,251.86) scale(0.89,1)" font-size="7.1" class="t">−0.2</text>
<line x1="522.4" y1="277.54545454545456" x2="524.6999999999999" y2="277.54545454545456" stroke="#333" stroke-width="0.8"/>
<text transform="translate(527.30,279.64) scale(0.89,1)" font-size="7.1" class="t">−0.3</text>
<line x1="522.4" y1="305.3272727272727" x2="524.6999999999999" y2="305.3272727272727" stroke="#333" stroke-width="0.8"/>
<text transform="translate(527.30,307.42) scale(0.89,1)" font-size="7.1" class="t">−0.4</text>
<line x1="522.4" y1="333.1090909090909" x2="524.6999999999999" y2="333.1090909090909" stroke="#333" stroke-width="0.8"/>
<text transform="translate(527.30,335.20) scale(0.89,1)" font-size="7.1" class="t">−0.5</text>
</svg>
</body></html>
